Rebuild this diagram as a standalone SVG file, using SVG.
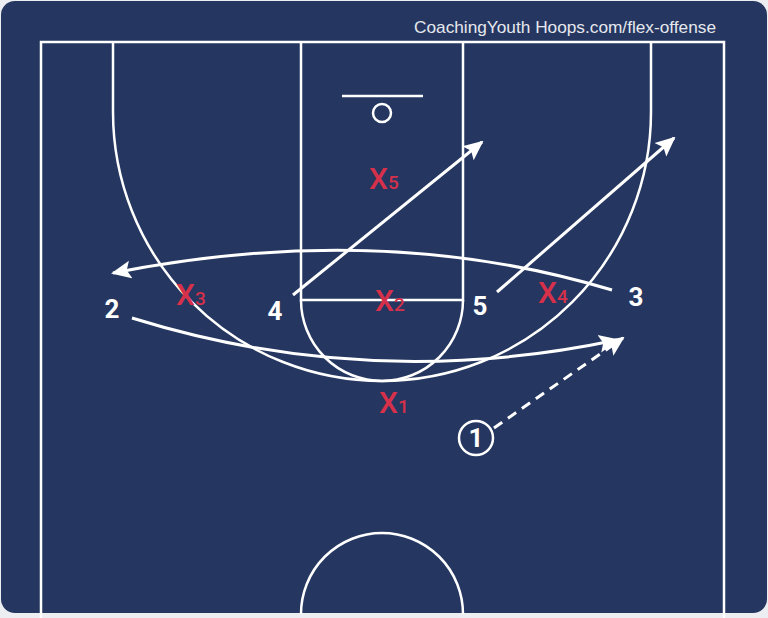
<svg xmlns="http://www.w3.org/2000/svg" width="768" height="618" viewBox="0 0 768 618">
<style>
.court{fill:none;stroke:#ffffff;stroke-width:2.5}
.mv{fill:none;stroke:#ffffff;stroke-width:3}
.pl{font-family:Roboto,"Liberation Sans",sans-serif;font-weight:bold;font-size:26px;fill:#ffffff;text-anchor:middle}
.df{font-family:Roboto,"Liberation Sans",sans-serif;font-weight:500;fill:#d6304a}
</style>
<defs>
<marker id="ah" viewBox="0 0 20 20" refX="18" refY="10" markerWidth="20" markerHeight="20" markerUnits="userSpaceOnUse" orient="auto">
<path d="M0,1 L20,10 L0,19 L4,10 Z" fill="#ffffff"/>
</marker>
</defs>
<rect x="0" y="0" width="768" height="618" fill="#eceef2"/>
<rect x="1" y="1" width="766" height="612" rx="14" fill="#253760"/>
<g id="court">
<path class="court" d="M41,618 L41,42 L724,42 L724,618"/>
<path class="court" d="M301,42 L301,300 L463,300 L463,42"/>
<path class="court" d="M301,300 A81,81 0 0 0 463,300"/>
<path class="court" d="M113,42 L113,112 A269,269 0 0 0 651,112 L651,42"/>
<line class="court" x1="342" y1="96" x2="423" y2="96"/>
<circle class="court" cx="382" cy="113" r="9"/>
<path class="court" d="M301,614 A81,81 0 0 1 463,614"/>
</g>
<text x="414" y="33" font-family="'Liberation Sans',Arial,sans-serif" font-size="17" fill="#e6e8ee" textLength="302" lengthAdjust="spacingAndGlyphs">CoachingYouth Hoops.com/flex-offense</text>
<g id="connectors">
<path class="mv" d="M293,295 L482,142" marker-end="url(#ah)"/>
<path class="mv" d="M497,292 L674,138" marker-end="url(#ah)"/>
<path class="mv" d="M612,290 Q380,220 113,273" marker-end="url(#ah)"/>
<path class="mv" d="M132,318 Q370,392 617,340" marker-end="url(#ah)"/>
<path class="mv" d="M494,428 L623,338" stroke-dasharray="10,7" marker-end="url(#ah)"/>
</g>
<g id="p2"><text class="pl" x="112" y="318">2</text></g>
<g id="p4"><text class="pl" x="275" y="320">4</text></g>
<g id="p5"><text class="pl" x="480" y="315">5</text></g>
<g id="p3"><text class="pl" x="636" y="306">3</text></g>
<g id="p1"><circle cx="476" cy="438" r="17" fill="none" stroke="#ffffff" stroke-width="2.5"/><text class="pl" x="476" y="447">1</text></g>
<g id="x5"><text class="df" x="369" y="189"><tspan font-size="30">X</tspan><tspan font-size="19">5</tspan></text></g>
<g id="x3"><text class="df" x="176" y="305"><tspan font-size="30">X</tspan><tspan font-size="19">3</tspan></text></g>
<g id="x2"><text class="df" x="375" y="311"><tspan font-size="30">X</tspan><tspan font-size="19">2</tspan></text></g>
<g id="x4"><text class="df" x="538" y="303"><tspan font-size="30">X</tspan><tspan font-size="19">4</tspan></text></g>
<g id="x1"><text class="df" x="379" y="413"><tspan font-size="30">X</tspan><tspan font-size="19">1</tspan></text></g>
</svg>
